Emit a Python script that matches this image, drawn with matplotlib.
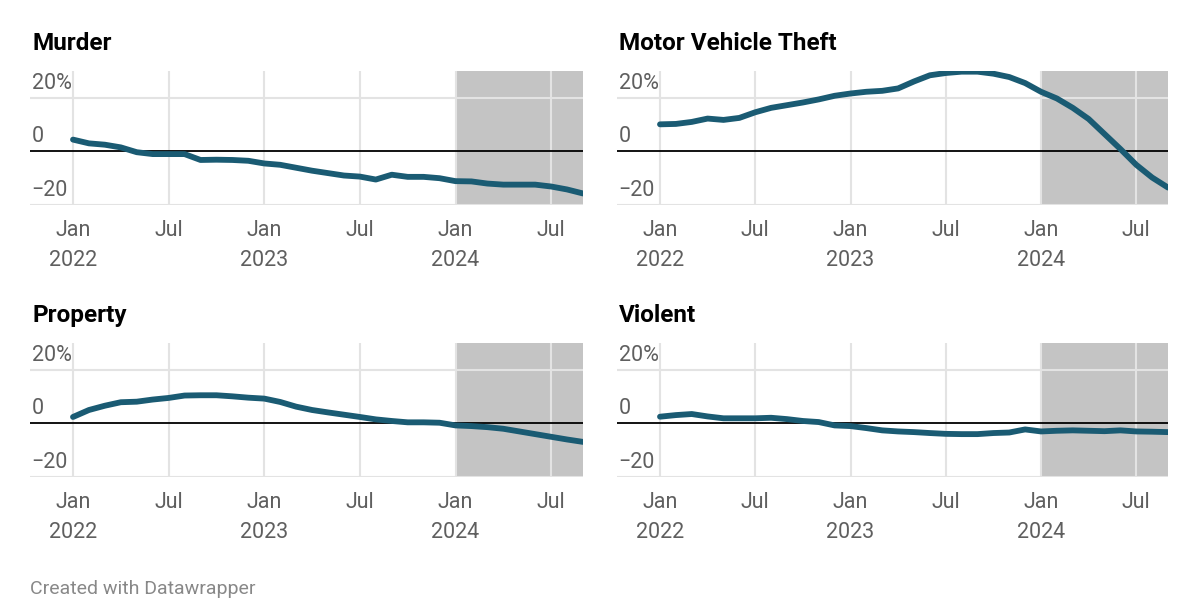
import numpy as np
import matplotlib.pyplot as plt

plt.rcParams['font.family'] = ['Roboto', 'DejaVu Sans']

# monthly values, Jan 2022 .. Sep 2024 (% change)
months = np.arange(33)
murder = [4.4, 3.0, 2.5, 1.5, -0.3, -1.0, -1.0, -1.0, -3.2, -3.1, -3.2, -3.5,
          -4.5, -5.0, -6.1, -7.2, -8.1, -9.0, -9.4, -10.5, -8.7, -9.5, -9.5, -10.0,
          -11.1, -11.2, -12.0, -12.4, -12.4, -12.4, -13.1, -14.2, -15.7]
motor_vehicle = [10.1, 10.25, 11.0, 12.25, 11.75, 12.5, 14.6, 16.25, 17.25, 18.25, 19.4, 20.75,
                 21.6, 22.25, 22.6, 23.5, 26.1, 28.4, 29.25, 29.75, 29.75, 29.0, 27.75, 25.5,
                 22.25, 19.75, 16.25, 12.1, 6.5, 0.9, -5.0, -9.75, -13.5]
property_crime = [2.4, 5.0, 6.6, 7.9, 8.1, 8.9, 9.5, 10.4, 10.5, 10.5, 10.1, 9.6,
                  9.25, 8.0, 6.25, 5.0, 4.1, 3.25, 2.4, 1.5, 0.9, 0.4, 0.4, 0.25,
                  -0.75, -1.0, -1.4, -2.0, -3.0, -4.0, -5.0, -6.0, -6.9]
violent = [2.5, 3.1, 3.5, 2.6, 1.9, 1.9, 1.9, 2.1, 1.6, 0.9, 0.5, -0.75,
           -1.0, -1.75, -2.6, -3.0, -3.25, -3.6, -3.9, -4.0, -4.0, -3.6, -3.4, -2.25,
           -3.0, -2.75, -2.6, -2.75, -2.9, -2.6, -3.0, -3.1, -3.25]

titles = ['Murder', 'Motor Vehicle Theft', 'Property', 'Violent']
series = [murder, motor_vehicle, property_crime, violent]

xtick_pos = [0, 6, 12, 18, 24, 30]
xtick_labels = ['Jan\n2022', 'Jul', 'Jan\n2023', 'Jul', 'Jan\n2024', 'Jul']
ytick_pos = [20, 0, -20]
ytick_labels = ['20%', '0', '\u221220']

line_color = '#1a5b73'
grid_color = '#e3e3e3'
text_gray = '#5f5f5f'

fig = plt.figure(figsize=(12, 6), dpi=100)

# axes boxes in pixels: (left, right, top, bottom)
boxes = [(30, 583, 71, 205), (617, 1168, 71, 205),
         (30, 583, 343, 477), (617, 1168, 343, 477)]

for (l, r, t, b), title, vals in zip(boxes, titles, series):
    ax = fig.add_axes([l / 1200, 1 - b / 600, (r - l) / 1200, (b - t) / 600])
    x0 = -(43 / ((r - l - 43) / 32))
    ax.set_xlim(x0, 32)
    ax.set_ylim(-20, 30)
    ax.axvspan(24, 32, color='#c4c4c4', lw=0, zorder=0)
    for xp in xtick_pos:
        ax.axvline(xp, color=grid_color, lw=1.5, zorder=1)
    for yp in [20, -20]:
        ax.axhline(yp, color=grid_color, lw=1.5, zorder=1)
    ax.axhline(0, color='black', lw=1.3, zorder=2)
    ax.plot(months, vals, color=line_color, lw=4.2, solid_capstyle='round', zorder=3)

    for yp, lab in zip(ytick_pos, ytick_labels):
        ax.text(x0 + 0.1, yp + 1.6, lab, fontsize=15.5,
                color=text_gray, ha='left', va='bottom')

    ax.set_xticks(xtick_pos)
    ax.set_xticklabels(xtick_labels, fontsize=15.5, color=text_gray, linespacing=1.55)
    ax.tick_params(axis='x', length=0, pad=11)
    ax.set_yticks([])
    for s in ax.spines.values():
        s.set_visible(False)

    fig.text(l / 1200 + 0.002, 1 - (t - 27) / 600, title, fontsize=17.5,
             fontweight='bold', color='black', ha='left', va='center')

fig.text(30 / 1200, 1 - 589 / 600, 'Created with Datawrapper', fontsize=14,
         color='#888888', ha='left', va='center')

fig.savefig('out.png', dpi=100)
